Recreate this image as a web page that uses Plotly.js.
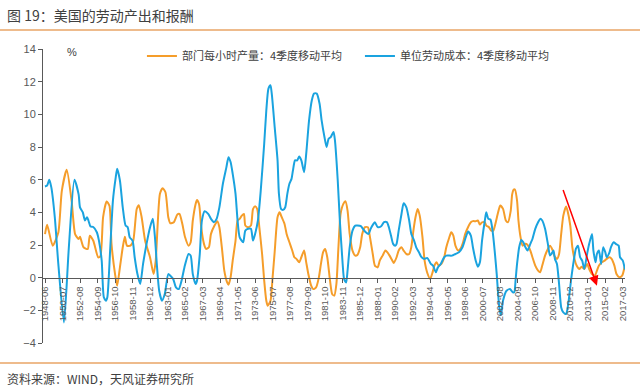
<!DOCTYPE html>
<html>
<head>
<meta charset="utf-8">
<script src="https://cdn.plot.ly/plotly-3.0.1.min.js"></script>
<style>
  html, body { margin: 0; padding: 0; background: #ffffff; }
  #chart { width: 640px; height: 388px; }
</style>
</head>
<body>
<div id="chart"></div>
<script>
// ---- data ----
const seriesNames = ['部门每小时产量：4季度移动平均', '单位劳动成本：4季度移动平均'];

const tickLabels = ['1948-06','1950-07','1952-08','1954-09','1956-10','1958-11','1960-12','1963-01','1965-02','1967-03','1969-04','1971-05','1973-06','1975-07','1977-08','1979-09','1981-10','1983-11','1985-12','1988-01','1990-02','1992-03','1994-04','1996-05','1998-06','2000-07','2002-08','2004-09','2006-10','2008-11','2010-12','2013-01','2015-02','2017-03'];

const productivityDates = ['1948-06','1948-09','1949-05','1950-01','1950-06','1951-01','1951-08','1952-01','1952-06','1952-08','1953-01','1953-07','1953-10','1954-03','1954-10','1955-01','1955-05','1955-10','1956-02','1956-05','1956-10','1957-01','1957-05','1957-09','1957-12','1958-03','1958-08','1958-12','1959-05','1959-08','1959-12','1960-05','1960-12','1961-05','1961-08','1962-02','1962-06','1962-10','1963-02','1963-05','1963-10','1964-03','1964-06','1964-10','1965-02','1965-07','1965-10','1966-01','1966-05','1966-07','1966-10','1967-01','1967-05','1967-08','1967-12','1968-03','1968-08','1968-12','1969-03','1969-07','1969-10','1970-02','1970-04','1970-07','1970-10','1971-02','1971-05','1971-08','1971-11','1972-02','1972-04','1972-08','1972-12','1973-03','1973-06','1973-09','1973-12','1974-04','1974-07','1974-10','1974-12','1975-04','1975-07','1975-10','1976-02','1976-05','1976-08','1976-12','1977-03','1977-07','1977-11','1978-02','1978-05','1978-09','1978-12','1979-04','1979-07','1979-10','1980-02','1980-05','1980-09','1981-01','1981-04','1981-07','1981-10','1982-01','1982-05','1982-08','1982-11','1983-02','1983-05','1983-08','1983-12','1984-03','1984-06','1984-09','1985-01','1985-05','1985-08','1985-12','1986-03','1986-07','1986-11','1987-02','1987-06','1987-09','1988-01','1988-04','1988-08','1988-12','1989-03','1989-06','1989-10','1989-12','1990-04','1990-07','1990-11','1991-02','1991-06','1991-10','1992-01','1992-04','1992-07','1992-10','1993-01','1993-05','1993-08','1993-12','1994-04','1994-07','1994-10','1995-01','1995-04','1995-08','1995-12','1996-03','1996-07','1996-10','1997-01','1997-04','1997-08','1997-11','1998-03','1998-06','1998-10','1999-02','1999-05','1999-09','1999-12','2000-03','2000-06','2000-10','2000-12','2001-04','2001-07','2001-10','2002-01','2002-05','2002-08','2002-12','2003-04','2003-07','2003-11','2004-01','2004-03','2004-05','2004-08','2004-10','2005-01','2005-04','2005-08','2005-11','2006-03','2006-06','2006-10','2007-02','2007-05','2007-08','2007-12','2008-04','2008-07','2008-11','2009-01','2009-05','2009-08','2009-11','2010-02','2010-06','2010-08','2010-12','2011-03','2011-06','2011-09','2012-01','2012-04','2012-08','2012-12','2013-03','2013-07','2013-11','2014-02','2014-05','2014-09','2015-01','2015-04','2015-08','2015-11','2016-03','2016-06','2016-10','2017-02','2017-06'];
const productivityValues = [2.67,3.24,1.96,2.77,5.3,6.6,4.7,2.67,2.36,2.5,1.86,1.75,2.57,2.26,1.24,1.3,3.7,4.67,4.4,2.06,0.22,-0.5,0.63,1.86,2.5,1.96,1.96,2.26,4.2,4.44,3.7,2.26,1.24,0.22,1.0,5.13,5.48,5.23,3.7,3.33,3.4,3.87,3.9,3.3,2.47,1.96,2.17,3.5,4.5,4.76,4.5,3.09,2.07,1.76,1.86,2.68,3.19,3.46,3.09,1.66,0.43,-0.29,-0.43,0.02,1.04,2.27,3.5,3.6,3.8,3.9,3.19,3.09,3.19,4.2,4.38,4.2,3.09,1.45,-0.18,-1.41,-1.72,-1.41,0.02,1.6,3.7,4.0,3.7,3.29,2.68,2.17,1.66,1.25,1.15,0.94,1.25,1.66,0.94,0.22,-0.49,-0.7,-0.6,0.02,0.84,1.55,1.76,1.25,-0.18,-1.0,-1.1,-0.39,1.86,3.9,4.52,4.68,4.11,2.68,1.66,1.35,1.39,1.86,2.68,3.09,3.09,2.47,1.45,0.74,0.63,1.04,1.35,1.66,1.55,1.35,1.04,0.9,1.25,1.66,1.86,1.66,1.45,1.45,1.86,2.88,3.7,4.21,3.8,2.47,1.04,0.27,-0.08,0.27,0.74,0.94,0.74,0.84,1.25,1.86,2.43,2.78,2.58,1.96,1.66,1.76,2.17,2.68,3.09,3.39,3.46,3.46,3.5,3.25,3.39,3.39,3.19,3.09,2.88,2.88,3.29,4.0,4.42,4.21,3.5,3.39,4.11,5.1,5.38,5.4,4.72,3.5,2.47,1.96,2.07,2.0,1.66,1.25,0.74,0.43,0.33,0.74,1.35,1.76,1.96,1.66,1.35,1.15,1.45,2.68,3.8,4.36,4.11,3.19,1.86,1.15,0.74,0.53,0.67,0.53,0.84,0.53,0.22,0.12,0.43,0.74,0.94,1.04,1.15,1.25,1.15,0.74,0.22,0.02,0.12,0.74];

const laborCostDates = ['1948-06','1948-09','1948-12','1949-03','1949-08','1950-01','1950-09','1951-04','1951-12','1952-06','1952-08','1952-12','1953-03','1953-06','1953-08','1953-11','1954-03','1954-08','1954-11','1955-03','1955-06','1955-09','1955-11','1956-03','1956-07','1956-11','1957-01','1957-05','1957-09','1958-01','1958-04','1958-07','1958-11','1959-02','1959-06','1959-10','1960-02','1960-07','1960-12','1961-04','1961-07','1961-10','1962-01','1962-05','1962-09','1963-02','1963-05','1963-09','1964-01','1964-05','1964-09','1965-01','1965-07','1965-10','1966-01','1966-05','1966-07','1966-11','1967-02','1967-06','1967-11','1968-03','1968-07','1968-11','1969-03','1969-08','1970-01','1970-04','1970-07','1970-10','1971-02','1971-05','1971-08','1972-01','1972-04','1972-08','1972-12','1973-03','1973-06','1973-10','1974-02','1974-07','1974-10','1975-01','1975-04','1975-06','1975-10','1976-02','1976-04','1976-07','1976-10','1977-01','1977-04','1977-07','1977-10','1977-12','1978-03','1978-06','1978-09','1978-12','1979-04','1979-07','1979-11','1980-03','1980-06','1980-10','1981-02','1981-05','1981-09','1981-12','1982-03','1982-06','1982-10','1982-12','1983-04','1983-07','1983-11','1984-01','1984-04','1984-06','1984-09','1985-01','1985-05','1985-08','1986-01','1986-04','1986-08','1986-12','1987-03','1987-07','1987-09','1988-01','1988-06','1988-10','1989-02','1989-05','1989-08','1989-11','1990-02','1990-04','1990-07','1990-11','1991-02','1991-06','1991-10','1992-01','1992-05','1992-08','1992-12','1993-03','1993-07','1993-12','1994-05','1994-08','1994-12','1995-03','1995-07','1995-12','1996-03','1996-11','1997-04','1997-09','1998-02','1998-06','1998-10','1999-02','1999-05','1999-09','1999-12','2000-03','2000-06','2000-10','2000-12','2001-03','2001-06','2001-09','2001-12','2002-03','2002-05','2002-07','2002-09','2002-12','2003-05','2003-10','2004-02','2004-04','2004-06','2004-08','2004-11','2005-02','2005-05','2005-08','2005-11','2006-03','2006-06','2006-10','2007-02','2007-05','2007-08','2007-12','2008-04','2008-07','2008-09','2008-12','2009-02','2009-05','2009-08','2009-11','2010-02','2010-06','2010-08','2010-10','2011-01','2011-05','2011-08','2011-11','2012-02','2012-05','2012-08','2012-12','2013-03','2013-07','2013-09','2013-12','2014-02','2014-05','2014-08','2014-11','2015-02','2015-04','2015-08','2015-10','2016-02','2016-05','2016-09','2016-11','2017-03','2017-06'];
const laborCostValues = [5.58,5.64,5.99,5.54,3.7,0.84,-2.74,1.8,6.0,5.1,4.3,4.0,3.5,3.7,3.5,3.13,3.1,2.78,2.27,1.04,-1.2,-1.41,-1.2,1.66,4.72,6.15,6.67,5.95,4.3,3.19,3.1,2.47,2.27,1.25,0.22,-0.39,0.84,2.07,3.09,3.6,2.47,0.63,-0.8,-1.41,-1.0,0.22,0.12,-0.08,-0.6,-0.7,-0.18,0.63,1.45,1.35,0.22,-0.39,-0.2,1.45,3.5,4.07,3.9,3.6,3.4,3.6,4.3,5.75,6.77,7.38,7.08,6.36,5.13,3.5,2.47,2.17,2.88,2.99,2.99,2.27,2.68,3.5,5.34,8.2,10.25,11.57,11.78,11.17,9.2,7.2,5.13,4.21,4.15,4.31,5.13,5.75,6.05,6.56,7.18,7.18,7.42,7.18,6.46,7.59,9.63,10.86,11.27,11.27,10.65,9.63,8.61,8.0,8.5,8.61,8.92,8.4,5.95,3.5,0.84,-0.08,-0.29,0.43,1.86,2.88,3.19,3.19,3.15,2.99,2.78,2.68,2.99,3.29,3.4,3.09,3.15,3.4,3.4,3.09,2.58,2.07,1.96,2.07,2.88,3.9,4.56,4.31,3.5,2.68,2.27,1.86,1.55,1.29,1.15,1.2,0.84,0.74,0.33,0.63,0.84,1.25,1.35,1.35,1.45,1.55,1.86,2.37,2.82,2.58,1.86,1.04,0.67,0.94,2.27,3.5,4.0,3.6,3.56,2.88,1.66,0.22,-1.0,-1.92,-2.3,-1.4,-0.8,-0.7,-0.9,-0.9,-0.1,0.84,1.86,2.31,2.17,1.86,1.66,2.07,2.37,2.99,3.39,3.6,3.5,2.99,2.07,1.35,1.45,1.66,1.15,0.84,-0.39,-1.82,-2.13,-2.23,-1.9,-1.31,-0.18,1.04,1.76,1.96,1.25,1.04,0.53,1.45,2.07,2.68,1.66,0.94,1.45,1.66,0.84,1.86,1.55,1.25,1.55,1.86,2.17,2.07,1.96,1.25,1.04,0.5];

// ---- chart ----
const CJK = '"Noto Sans CJK SC", "Noto Sans", sans-serif';
const AX = '#595959';

const traces = [
  {
    type: 'scatter', mode: 'lines', name: seriesNames[0],
    x: productivityDates, y: productivityValues,
    line: { color: '#F59D2A', width: 2, shape: 'spline', smoothing: 0.6 },
    hoverinfo: 'skip'
  },
  {
    type: 'scatter', mode: 'lines', name: seriesNames[1],
    x: laborCostDates, y: laborCostValues,
    line: { color: '#1AA3DF', width: 2, shape: 'spline', smoothing: 0.6 },
    hoverinfo: 'skip'
  }
];

const layout = {
  width: 640, height: 388,
  margin: { l: 43, r: 15, t: 49, b: 45 },
  paper_bgcolor: '#ffffff', plot_bgcolor: '#ffffff',
  font: { family: CJK, color: '#404040' },
  title: {
    text: '图 19：美国的劳动产出和报酬',
    font: { family: CJK, size: 14, color: '#404040' },
    x: 0.011, xref: 'container', xanchor: 'left',
    y: 0.959, yref: 'container', yanchor: 'middle'
  },
  xaxis: {
    type: 'date',
    range: ['1948-03-06', '2017-06-05'],
    anchor: 'free', position: 4 / 18,
    showline: true, linecolor: AX, linewidth: 1,
    ticks: 'outside', ticklen: 4, tickcolor: AX,
    tickmode: 'array', tickvals: tickLabels, ticktext: tickLabels,
    tickangle: -90,
    tickfont: { family: '"Liberation Sans", Arial, sans-serif', size: 9.5, color: AX },
    showgrid: false, zeroline: false, fixedrange: true
  },
  yaxis: {
    range: [-4, 14], dtick: 2, tick0: 0,
    showline: true, linecolor: AX, linewidth: 1,
    ticks: 'outside', ticklen: 4, tickcolor: AX,
    tickfont: { family: '"Liberation Sans", Arial, sans-serif', size: 11, color: AX },
    showgrid: false, zeroline: false, fixedrange: true
  },
  showlegend: true,
  legend: {
    orientation: 'h',
    x: 0.17, y: 0.976, xanchor: 'left', yanchor: 'middle',
    font: { family: CJK, size: 11, color: '#404040' },
    bgcolor: 'rgba(0,0,0,0)',
    itemwidth: 30,
    entrywidth: 173, entrywidthmode: 'pixels'
  },
  shapes: [
    { type: 'line', xref: 'paper', yref: 'paper', x0: -43 / 582, x1: 597 / 582, y0: 313 / 294, y1: 313 / 294,
      line: { color: '#E9A466', width: 1.5 } },
    { type: 'line', xref: 'paper', yref: 'paper', x0: -43 / 582, x1: 597 / 582, y0: -20 / 294, y1: -20 / 294,
      line: { color: '#E9A466', width: 1.5 } }
  ],
  annotations: [
    { text: '%', xref: 'paper', yref: 'paper', x: 29 / 582, y: 291 / 294, xanchor: 'center', yanchor: 'middle',
      showarrow: false, font: { family: '"Liberation Sans", Arial, sans-serif', size: 11, color: '#404040' } },
    { text: '资料来源：WIND，天风证券研究所', xref: 'paper', yref: 'paper', x: -38 / 582, y: -35 / 294,
      xanchor: 'left', yanchor: 'middle', showarrow: false,
      font: { family: CJK, size: 12, color: '#404040' } },
    { text: '', x: '2014-02', y: -0.49, xref: 'x', yref: 'y',
      ax: '2010-01', ay: 5.46, axref: 'x', ayref: 'y',
      showarrow: true, arrowhead: 2, arrowsize: 1.3, arrowwidth: 1.5, arrowcolor: '#FF0000' }
  ]
};

Plotly.newPlot('chart', traces, layout, { staticPlot: true, displayModeBar: false });
</script>
</body>
</html>
